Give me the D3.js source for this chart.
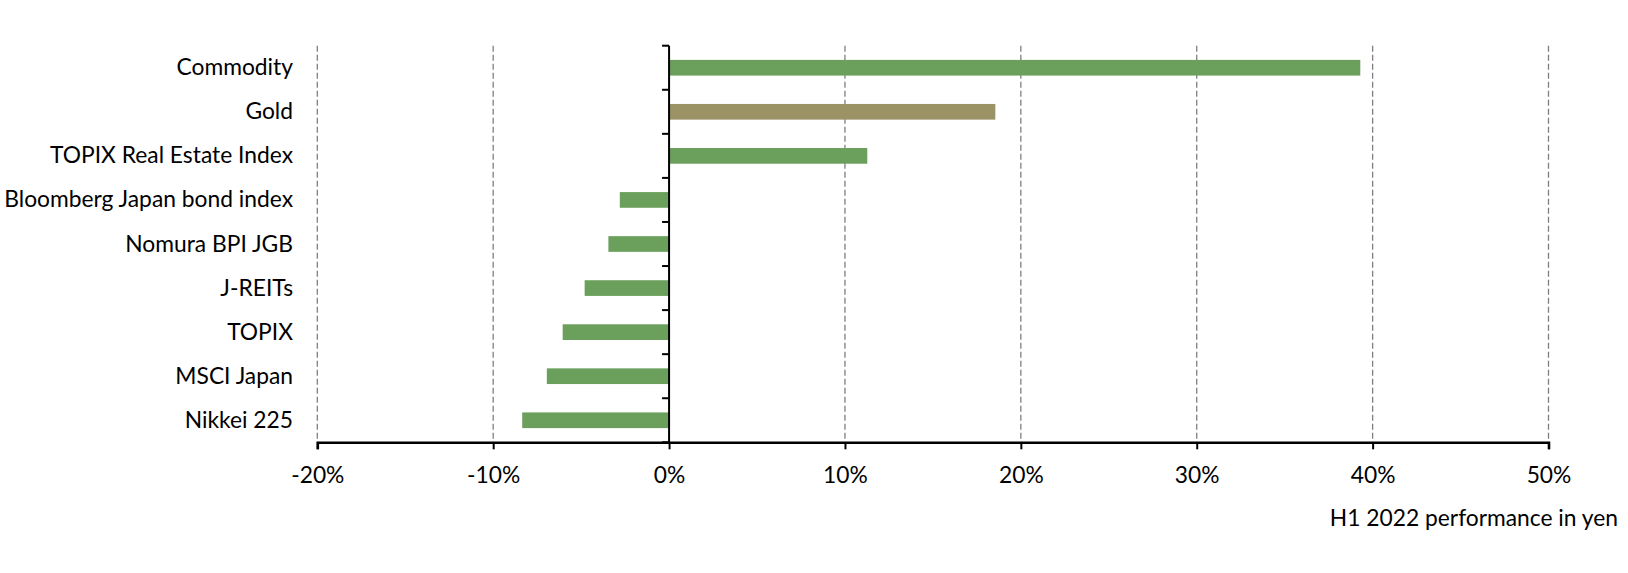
<!DOCTYPE html>
<html>
<head>
<meta charset="utf-8">
<script src="https://cdn.jsdelivr.net/npm/d3@7/dist/d3.min.js"></script>
<style>
  html, body { margin: 0; padding: 0; background: #fff; }
  svg { display: block; }
  text { font-family: "Lato", "Open Sans", sans-serif; fill: #000; }
</style>
</head>
<body>
<svg id="chart" width="1628" height="573"></svg>
<script>
const categories = ["Commodity", "Gold", "TOPIX Real Estate Index", "Bloomberg Japan bond index",
  "Nomura BPI JGB", "J-REITs", "TOPIX", "MSCI Japan", "Nikkei 225"];
const values = [39.3, 18.55, 11.27, -2.8, -3.45, -4.8, -6.05, -6.95, -8.35];
const barColors = ["#6aa05c", "#9b9266", "#6aa05c", "#6aa05c", "#6aa05c", "#6aa05c", "#6aa05c", "#6aa05c", "#6aa05c"];
const tickValues = [-20, -10, 0, 10, 20, 30, 40, 50];
const axisTitle = "H1 2022 performance in yen";

(function () {
const svg = d3.select("#chart");
const plotL = 317.3, plotR = 1548.5, plotT = 45.7, plotB = 442.3;

const x = d3.scaleLinear().domain([-20, 50]).range([plotL, plotR]);
const y = d3.scaleBand().domain(categories).range([plotT, plotB]).paddingInner(0).paddingOuter(0);
const barH = y.bandwidth() * 0.356;

// font fit: target width of longest label
let fontSize = 24;
const probe = svg.append("text").style("font-size", "24px").text("Bloomberg Japan bond index");
const w = probe.node().getComputedTextLength();
probe.remove();
if (w > 0) fontSize = 24 * 289 / w;

// gridlines
svg.append("g").selectAll("line")
  .data(tickValues.filter(d => d !== 0))
  .join("line")
  .attr("x1", d => x(d)).attr("x2", d => x(d))
  .attr("y1", plotT).attr("y2", plotB)
  .attr("stroke", "#7f7f7f").attr("stroke-width", 1.3)
  .attr("stroke-dasharray", "6,3");

// bars
svg.append("g").selectAll("rect")
  .data(categories.map((c, i) => ({ c, v: values[i], col: barColors[i] })))
  .join("rect")
  .attr("x", d => x(Math.min(0, d.v)))
  .attr("width", d => Math.abs(x(d.v) - x(0)))
  .attr("y", d => y(d.c) + (y.bandwidth() - barH) / 2)
  .attr("height", barH)
  .attr("fill", d => d.col);

// x axis
const xAxis = d3.axisBottom(x).tickValues(tickValues).tickSize(7).tickPadding(0)
  .tickFormat(d => d + "%");
const gx = svg.append("g").attr("transform", `translate(0,${plotB})`).call(xAxis);
gx.select(".domain").attr("stroke", "#000").attr("stroke-width", 2.6);
gx.selectAll(".tick line").attr("stroke", "#000").attr("stroke-width", 2);
gx.selectAll(".tick text")
  .attr("y", 483 - plotB).attr("dy", 0)
  .style("font-size", fontSize + "px")
  .style("font-family", "Lato, 'Open Sans', sans-serif")
  .attr("fill", "#000");

// y axis at zero
const boundaries = categories.map(c => y(c)).concat([plotB]);
const gy = svg.append("g");
gy.append("line")
  .attr("x1", x(0)).attr("x2", x(0)).attr("y1", plotT).attr("y2", plotB)
  .attr("stroke", "#000").attr("stroke-width", 2);
gy.selectAll("line.t").data(boundaries).join("line").attr("class", "t")
  .attr("x1", x(0) - 7).attr("x2", x(0))
  .attr("y1", d => d).attr("y2", d => d)
  .attr("stroke", "#000").attr("stroke-width", 2);

// category labels
svg.append("g").selectAll("text")
  .data(categories)
  .join("text")
  .attr("x", 293)
  .attr("y", d => y(d) + y.bandwidth() / 2 + fontSize * 0.33)
  .attr("text-anchor", "end")
  .style("font-size", fontSize + "px")
  .text(d => d);

// axis title
svg.append("text")
  .attr("x", 1618).attr("y", 526)
  .attr("text-anchor", "end")
  .style("font-size", fontSize + "px")
  .text(axisTitle);
})();
</script>
</body>
</html>
